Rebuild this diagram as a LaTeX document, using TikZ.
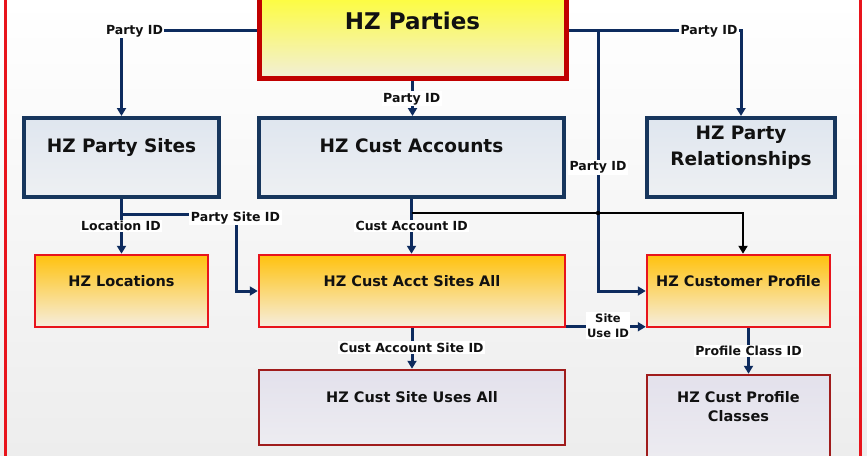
\documentclass[tikz,border=0pt]{standalone}
\usepackage{fontspec}
\setmainfont{DejaVu Sans}
\usetikzlibrary{arrows.meta,calc}
\definecolor{navy}{HTML}{0D2B5E}
\definecolor{bluebord}{HTML}{17365D}
\definecolor{bluetop}{HTML}{DFE6EF}
\definecolor{bluebot}{HTML}{EEF0F3}
\definecolor{darkred}{HTML}{C00000}
\definecolor{yeltop}{HTML}{FFFF22}
\definecolor{yelbot}{HTML}{F2EFD8}
\definecolor{brightred}{HTML}{E8141C}
\definecolor{orgtop}{HTML}{FFC20E}
\definecolor{orgbot}{HTML}{F6EEDF}
\definecolor{maroon}{HTML}{A01C1C}
\definecolor{lavtop}{HTML}{E3E1EC}
\definecolor{lavbot}{HTML}{EDECF1}
\definecolor{bgbot}{HTML}{EDEDED}
\definecolor{txt}{HTML}{111111}
\begin{document}
\begin{tikzpicture}[x=1pt,y=-1pt,
  bluebox/.style={draw=bluebord,line width=4pt,top color=bluetop,bottom color=bluebot,inner sep=0pt},
  yelbox/.style={draw=darkred,line width=5pt,top color=yeltop,bottom color=yelbot,inner sep=0pt},
  orgbox/.style={draw=brightred,line width=2.5pt,top color=orgtop,bottom color=orgbot,inner sep=0pt},
  lavbox/.style={draw=maroon,line width=2.5pt,top color=lavtop,bottom color=lavbot,inner sep=0pt},
  bigtitle/.style={font=\bfseries\fontsize{18.5}{26}\selectfont,text=txt,align=center,inner sep=0pt},
  smalltitle/.style={font=\bfseries\fontsize{14.5}{19.5}\selectfont,text=txt,align=center,inner sep=0pt},
  lbl/.style={font=\bfseries\fontsize{12.5}{15}\selectfont,text=txt,fill=white,inner xsep=1.5pt,inner ysep=1.5pt,align=center},
  conn/.style={draw=navy,line width=3pt,-{Triangle[length=8pt,width=9pt]}},
  blackconn/.style={draw=black,line width=2pt,-{Triangle[length=8pt,width=9pt]}}
]
\useasboundingbox (0,0) rectangle (867,455);
\clip (0,0) rectangle (867,455);
\shade[top color=white,bottom color=bgbot] (0,0) rectangle (867,455);
\draw[brightred,line width=3pt] (5,-10) rectangle (860,470);

% boxes
\node[yelbox,minimum width=307pt,minimum height=96pt] (parties) at (412.5,30) {};
\node[bluebox,minimum width=195pt,minimum height=79pt] (partysites) at (121.5,157.5) {};
\node[bluebox,minimum width=305pt,minimum height=79pt] (custacc) at (411.5,157.5) {};
\node[bluebox,minimum width=188pt,minimum height=79pt] (partyrel) at (741,157.5) {};
\node[orgbox,minimum width=173pt,minimum height=72pt] (locations) at (121.5,291) {};
\node[orgbox,minimum width=306pt,minimum height=72pt] (acctsites) at (412,291) {};
\node[orgbox,minimum width=183pt,minimum height=72pt] (custprof) at (738.5,291) {};
\node[lavbox,minimum width=306pt,minimum height=75pt] (siteuses) at (412,407.5) {};
\node[lavbox,minimum width=183pt,minimum height=90pt] (profclasses) at (738.5,420) {};

% box titles
\node[bigtitle,font=\bfseries\fontsize{23}{28}\selectfont,anchor=base] (partiesT) at (412.5,29.5) {HZ Parties};
\node[bigtitle,anchor=base] (partysitesT) at (121.5,152) {HZ Party Sites};
\node[bigtitle,anchor=base] (custaccT) at (411.5,152) {HZ Cust Accounts};
\node[bigtitle,anchor=center] (partyrelT) at (741,148) {HZ Party\\Relationships};
\node[smalltitle,anchor=base] (locationsT) at (121.5,286) {HZ Locations};
\node[smalltitle,anchor=base] (acctsitesT) at (412,286) {HZ Cust Acct Sites All};
\node[smalltitle,anchor=base] (custprofT) at (738.5,286) {HZ Customer Profile};
\node[smalltitle,anchor=base] (siteusesT) at (412,402.5) {HZ Cust Site Uses All};
\node[smalltitle,anchor=center] (profclassesT) at (738.5,406.5) {HZ Cust Profile\\Classes};

% connectors
\coordinate (pbranch) at (598,30);
\coordinate (psbranch) at (121.5,214);
\coordinate (psturn) at (236,214);
\coordinate (cabranch) at (411.5,213);

\draw[conn] (parties.west) -| (partysites.north);
\draw[conn] (parties.south) -- (parties.south |- custacc.north);
\draw[conn] (parties.east) -| (partyrel.north);
\draw[conn] (pbranch) |- (custprof.west);
\draw[conn] (partysites.south) -- (locations.north);
\draw[conn] (psbranch) -- (psturn) |- (acctsites.west);
\draw[conn] (custacc.south) -- (custacc.south |- acctsites.north);
\draw[blackconn] (cabranch) -| ($(custprof.north)+(4.5,0)$);
\fill[black] (598,213) circle (2.2pt);
\draw[conn] ($(acctsites.south east)+(0,-1.5)$) -- ($(custprof.south west)+(0,-1.5)$);
\draw[conn] (acctsites.south) -- (siteuses.north);
\draw[conn] ($(custprof.south)+(10,0)$) -- ($(profclasses.north)+(10,0)$);

% labels
\node[lbl,anchor=base] (l1) at (134.5,34) {Party ID};
\node[lbl,anchor=base] (l2) at (411.7,102) {Party ID};
\node[lbl,anchor=base] (l3) at (709,34) {Party ID};
\node[lbl,anchor=base] (l4) at (598,170.5) {Party ID};
\node[lbl,anchor=base] (l5) at (121,230.5) {Location ID};
\node[lbl,anchor=base] (l6) at (235.5,221) {Party Site ID};
\node[lbl,anchor=base] (l7) at (411.7,230.5) {Cust Account ID};
\node[lbl,anchor=base] (l8) at (411.5,352.3) {Cust Account Site ID};
\node[lbl,font=\bfseries\fontsize{11.5}{15}\selectfont,anchor=center] (l9) at (608,325.5) {Site\\Use ID};
\node[lbl,anchor=base] (l10) at (748.5,355.7) {Profile Class ID};
\end{tikzpicture}
\end{document}
